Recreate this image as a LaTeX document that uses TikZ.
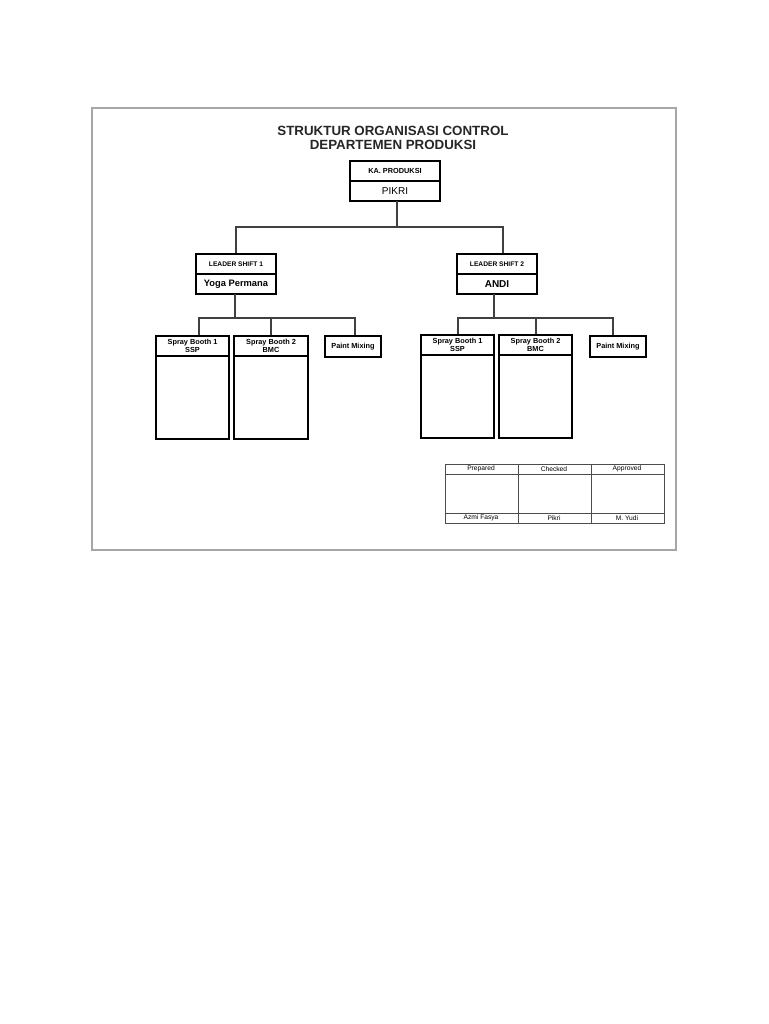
\documentclass[tikz,border=0pt]{standalone}
\usepackage{fontspec}
\setmainfont{Liberation Sans}
\begin{document}
\begin{tikzpicture}[x=0.75pt,y=-0.75pt,
  bx/.style={draw=black,line width=1.4pt},
  ln/.style={draw=black!75,line width=0.9pt},
  t/.style={font=\bfseries\fontsize{5.5}{6}\selectfont,align=center,inner sep=0pt},
  tt/.style={font=\fontsize{5}{6}\selectfont,inner sep=0pt}]
\useasboundingbox (0,0) rectangle (768,1024);
\fill[white] (0,0) rectangle (768,1024);
\draw[black!35,line width=0.8pt] (92,108) rectangle (676,550);
\node[font=\bfseries\fontsize{10}{11}\selectfont,align=center,text=black!85] (title) at (393,138) {STRUKTUR ORGANISASI CONTROL\\DEPARTEMEN PRODUKSI};
% KA
\draw[bx] (350,161) rectangle (440,201); \draw[bx] (350,181) -- (440,181);
\node[t] (ka) at (395,171) {KA. PRODUKSI};
\node[font=\fontsize{7.5}{8}\selectfont,inner sep=0pt] (pikri) at (395,191) {PIKRI};
\coordinate (kab) at (397,201);
\draw[ln] (kab) -- (397,227) (236,254) -- (236,227) -- (503,227) -- (503,254);
% leaders
\draw[bx] (196,254) rectangle (276,294); \draw[bx] (196,274) -- (276,274);
\node[t,font=\bfseries\fontsize{5}{6}\selectfont] (l1) at (236,264) {LEADER SHIFT 1};
\node[font=\bfseries\fontsize{7}{8}\selectfont,inner sep=0pt] (y1) at (236,284) {Yoga Permana};
\draw[bx] (457,254) rectangle (537,294); \draw[bx] (457,274) -- (537,274);
\node[t,font=\bfseries\fontsize{5}{6}\selectfont] (l2) at (497,264) {LEADER SHIFT 2};
\node[font=\bfseries\fontsize{7.5}{8}\selectfont,inner sep=0pt] (a2) at (497,284) {ANDI};
\draw[ln] (235,294) -- (235,318) (199,336) -- (199,318) -- (355,318) -- (355,336) (271,318) -- (271,336);
\draw[ln] (494,294) -- (494,318) (458,336) -- (458,318) -- (613,318) -- (613,336) (536,318) -- (536,336);
% boxes left
\draw[bx] (156,336) rectangle (229,439); \draw[bx] (156,356) -- (229,356);
\node[t] (s11) at (192.5,346) {Spray Booth 1\\SSP};
\draw[bx] (234,336) rectangle (308,439); \draw[bx] (234,356) -- (308,356);
\node[t] (s12) at (271,346) {Spray Booth 2\\BMC};
\draw[bx] (325,336) rectangle (381,357);
\node[t] (p1) at (353,346.5) {Paint Mixing};
% boxes right
\draw[bx] (421,335) rectangle (494,438); \draw[bx] (421,355) -- (494,355);
\node[t] (s21) at (457.5,345) {Spray Booth 1\\SSP};
\draw[bx] (499,335) rectangle (572,438); \draw[bx] (499,355) -- (572,355);
\node[t] (s22) at (535.5,345) {Spray Booth 2\\BMC};
\draw[bx] (590,336) rectangle (646,357);
\node[t] (p2) at (618,346.5) {Paint Mixing};
% table
\draw[black!70,line width=0.7pt] (445,464) rectangle (664,523) (445,474) -- (664,474) (445,513) -- (664,513) (518,464) -- (518,523) (591,464) -- (591,523);
\node[tt] (c1) at (481,469) {Prepared};
\node[tt] (c2) at (554,469.5) {Checked};
\node[tt] (c3) at (627,469) {Approved};
\node[tt] (n1) at (481,518) {Azmi Fasya};
\node[tt] (n2) at (554,518) {Pikri};
\node[tt] (n3) at (627,518) {M. Yudi};
\end{tikzpicture}
\end{document}
